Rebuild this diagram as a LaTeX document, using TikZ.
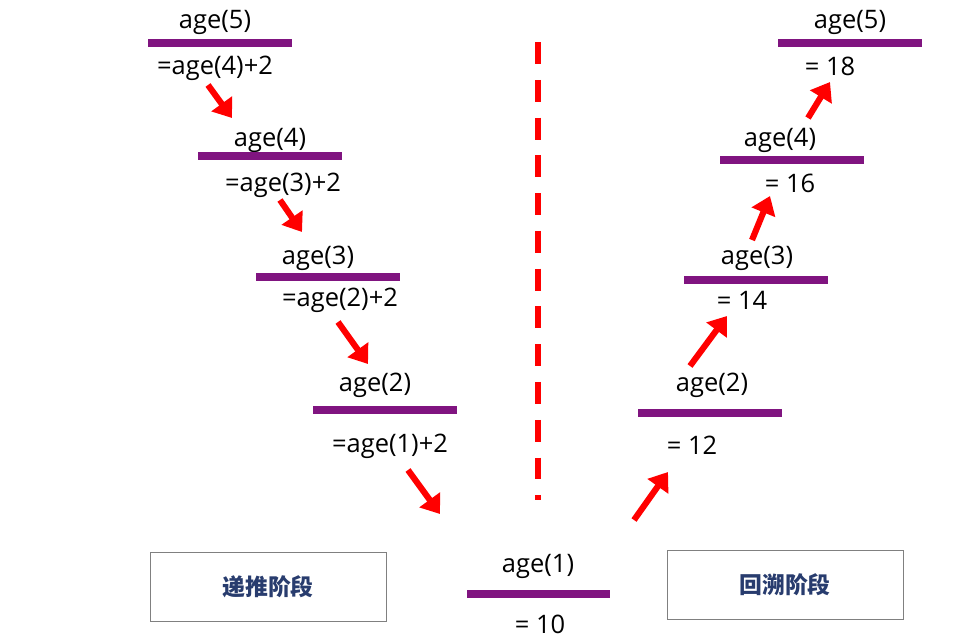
\documentclass[tikz,border=0pt]{standalone}
\usepackage{fontspec}
\setmainfont{Open Sans}
\newfontfamily\cjk{Noto Sans CJK SC}
\usetikzlibrary{arrows.meta}
\definecolor{barpurple}{RGB}{128,20,128}
\definecolor{stagetext}{RGB}{40,60,110}

\begin{document}
\begin{tikzpicture}[x=0.02cm,y=-0.02cm,
    every node/.style={font=\fontsize{14.5}{16}\selectfont,inner sep=0pt},
    bar/.style={barpurple,line width=4pt},
    redarrow/.style={red,line width=3.5pt,-{Triangle[length=10pt,width=14pt]}},
    stagebox/.style={draw=gray,thin,minimum width=4.72cm,minimum height=1.38cm,
      font=\cjk\bfseries\fontsize{13}{15}\selectfont,text=stagetext}]

    \useasboundingbox (0,0) rectangle (970,640);

    % left: recursion
    \node (l5) at (215,22) {age(5)};
    \draw[bar] (148,43) -- (292,43);
    \node (l5e) at (215,68) {=age(4)+2};
    \node (l4) at (270,140) {age(4)};
    \draw[bar] (198,156) -- (342,156);
    \node (l4e) at (283,185) {=age(3)+2};
    \node (l3) at (318,258) {age(3)};
    \draw[bar] (256,277) -- (400,277);
    \node (l3e) at (340,300) {=age(2)+2};
    \node (l2) at (375,385) {age(2)};
    \draw[bar] (313,410) -- (457,410);
    \node (l2e) at (390,446) {=age(1)+2};

    % bottom
    \node (a1) at (538,566) {age(1)};
    \draw[bar] (467,594) -- (610,594);
    \node (a1e) at (540,624) {= 10};

    % right: backtracking
    \node (r5) at (850,22) {age(5)};
    \draw[bar] (778,43) -- (922,43);
    \node (r5e) at (830,66) {= 18};
    \node (r4) at (780,140) {age(4)};
    \draw[bar] (720,160) -- (864,160);
    \node (r4e) at (790,183) {= 16};
    \node (r3) at (757,258) {age(3)};
    \draw[bar] (684,280) -- (828,280);
    \node (r3e) at (742,300) {= 14};
    \node (r2) at (712,385) {age(2)};
    \draw[bar] (638,413) -- (782,413);
    \node (r2e) at (692,445) {= 12};

    % arrows
    \coordinate (la1) at (208,85);  \coordinate (lb1) at (232,118);
    \coordinate (la2) at (280,200); \coordinate (lb2) at (302,232);
    \coordinate (la3) at (338,322); \coordinate (lb3) at (368,364);
    \coordinate (la4) at (408,470); \coordinate (lb4) at (440,514);
    \coordinate (ra1) at (634,520); \coordinate (rb1) at (668,472);
    \coordinate (ra2) at (690,366); \coordinate (rb2) at (727,316);
    \coordinate (ra3) at (752,240); \coordinate (rb3) at (770,196);
    \coordinate (ra4) at (808,118); \coordinate (rb4) at (830,82);
    \foreach \i in {1,...,4}{
      \draw[redarrow] (la\i) -- (lb\i);
      \draw[redarrow] (ra\i) -- (rb\i);
    }

    % divider
    \coordinate (dtop) at (538,42);
    \coordinate (dbot) at (538,500);
    \draw[red,line width=3.5pt,dash pattern=on 12.5pt off 9pt] (dtop) -- (dbot);

    \node[stagebox] (push) at (268,587) {递推阶段};
    \node[stagebox] (back) at (785,585) {回溯阶段};
  \end{tikzpicture}
\end{document}
